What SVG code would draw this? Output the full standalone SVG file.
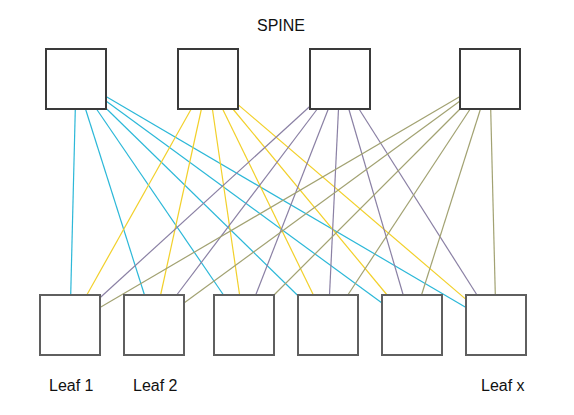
<svg xmlns="http://www.w3.org/2000/svg" width="574" height="415" viewBox="0 0 574 415">
<style>
.spine{fill:#fff;stroke:#3a3a3a;stroke-width:2}
.leaf{fill:#fff;stroke:#5f5f5f;stroke-width:2}
.lbl{font-family:"Liberation Sans",Arial,sans-serif;font-size:16px;fill:#111}
.c1{stroke:#2cb8d8;stroke-width:1.2;fill:none}
.c2{stroke:#f2d02a;stroke-width:1.2;fill:none}
.c3{stroke:#8a80a4;stroke-width:1.2;fill:none}
.c4{stroke:#a2a272;stroke-width:1.2;fill:none}
</style>
<rect width="574" height="415" fill="#fff"/>
<text class="lbl" x="257" y="31">SPINE</text>
<g id="connectors">
<line class="c1" x1="75.3" y1="109" x2="70.7" y2="295"/>
<line class="c1" x1="85.5" y1="109" x2="144.5" y2="295"/>
<line class="c1" x1="96.5" y1="109" x2="223.5" y2="295"/>
<line class="c1" x1="106" y1="108.3" x2="298" y2="295.7"/>
<line class="c1" x1="106" y1="101" x2="382" y2="303"/>
<line class="c1" x1="106" y1="96.6" x2="466" y2="307.4"/>
<line class="c2" x1="191.2" y1="109" x2="86.8" y2="295"/>
<line class="c2" x1="201.4" y1="109" x2="160.6" y2="295"/>
<line class="c2" x1="212.4" y1="109" x2="239.6" y2="295"/>
<line class="c2" x1="222.6" y1="109" x2="313.4" y2="295"/>
<line class="c2" x1="232.9" y1="109" x2="387.1" y2="295"/>
<line class="c2" x1="238" y1="104.6" x2="466" y2="299.4"/>
<line class="c3" x1="310" y1="106.3" x2="100" y2="297.7"/>
<line class="c3" x1="317.3" y1="109" x2="176.7" y2="295"/>
<line class="c3" x1="328.3" y1="109" x2="255.7" y2="295"/>
<line class="c3" x1="338.5" y1="109" x2="329.5" y2="295"/>
<line class="c3" x1="348.8" y1="109" x2="403.2" y2="295"/>
<line class="c3" x1="359" y1="109" x2="477" y2="295"/>
<line class="c4" x1="460" y1="96.6" x2="100" y2="307.4"/>
<line class="c4" x1="460" y1="101" x2="184" y2="303"/>
<line class="c4" x1="460" y1="109" x2="274" y2="295"/>
<line class="c4" x1="470.2" y1="109" x2="347.8" y2="295"/>
<line class="c4" x1="480.5" y1="109" x2="421.5" y2="295"/>
<line class="c4" x1="490.7" y1="109" x2="495.3" y2="295"/>
</g>
<g id="spine1"><rect class="spine" x="46" y="49" width="60" height="60"/></g>
<g id="spine2"><rect class="spine" x="178" y="49" width="60" height="60"/></g>
<g id="spine3"><rect class="spine" x="310" y="49" width="60" height="60"/></g>
<g id="spine4"><rect class="spine" x="460" y="49" width="60" height="60"/></g>
<g id="leaf1"><rect class="leaf" x="40" y="295" width="60" height="60"/><text class="lbl" x="49" y="391">Leaf 1</text></g>
<g id="leaf2"><rect class="leaf" x="124" y="295" width="60" height="60"/><text class="lbl" x="133" y="391">Leaf 2</text></g>
<g id="leaf3"><rect class="leaf" x="214" y="295" width="60" height="60"/></g>
<g id="leaf4"><rect class="leaf" x="298" y="295" width="60" height="60"/></g>
<g id="leaf5"><rect class="leaf" x="382" y="295" width="60" height="60"/></g>
<g id="leaf6"><rect class="leaf" x="466" y="295" width="60" height="60"/><text class="lbl" x="481" y="391">Leaf x</text></g>
</svg>
